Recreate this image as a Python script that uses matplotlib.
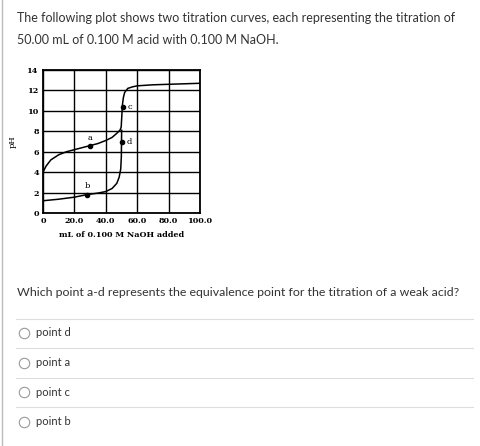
import matplotlib.pyplot as plt
from matplotlib.lines import Line2D

weak_ml = [0, 2, 5, 10, 15, 20, 25, 30, 35, 40, 44, 47, 49, 49.8, 50.2, 50.6, 51.2, 52, 54, 57, 60, 70, 80, 90, 100]
weak_ph = [4.0, 4.6, 5.2, 5.7, 6.0, 6.2, 6.4, 6.6, 6.8, 7.1, 7.4, 7.8, 8.1, 8.4, 9.5, 10.6, 11.3, 11.8, 12.2, 12.35, 12.45, 12.55, 12.6, 12.65, 12.7]
strong_ml = [0, 10, 20, 28, 35, 40, 44, 47, 48.5, 49.5, 49.9, 50.0, 50.1]
strong_ph = [1.2, 1.35, 1.55, 1.8, 1.95, 2.1, 2.4, 2.9, 3.5, 4.3, 5.5, 7.0, 8.1]
pt_labels = ['a', 'b', 'c', 'd']
pt_ml = [30, 28, 51, 50]
pt_ph = [6.6, 1.8, 10.4, 7.0]
options = ['point d', 'point a', 'point c', 'point b']

W, H = 480, 446
fig = plt.figure(figsize=(4.8, 4.46), dpi=100)

def fx(px):
    return px / W

def fy(py):
    return 1 - py / H

fig.text(fx(17), fy(18), 'The following plot shows two titration curves, each representing the titration of',
         fontsize=9.0, family='Lato', color='#333333', va='center')
fig.text(fx(17), fy(40), '50.00 mL of 0.100 M acid with 0.100 M NaOH.',
         fontsize=9.0, family='Lato', color='#333333', va='center')
fig.add_artist(Line2D([fx(1.5), fx(1.5)], [0, 1], color='#bbbbbb', lw=1))

ax = fig.add_axes([fx(43), fy(213), fx(200) - fx(43), fy(70) - fy(213)])
ax.plot(weak_ml, weak_ph, color='black', lw=1.1)
ax.plot(strong_ml, strong_ph, color='black', lw=1.1)
ax.scatter(pt_ml, pt_ph, color='black', s=9, zorder=3)
offsets = {'a': (0, 0.7), 'b': (0, 0.8), 'c': (3, 0), 'd': (3, 0)}
for lab, x, y in zip(pt_labels, pt_ml, pt_ph):
    dx, dy = offsets[lab]
    ax.text(x + dx, y + dy, lab, fontsize=6, family='DejaVu Serif', va='center', ha='left' if dx else 'center')
ax.set_xlim(0, 100)
ax.set_ylim(0, 14)
ax.set_xticks([0, 20, 40, 60, 80, 100])
ax.set_xticklabels(['0', '20.0', '40.0', '60.0', '80.0', '100.0'])
ax.set_yticks(range(0, 15, 2))
ax.grid(True, color='black', lw=1)
for s in ax.spines.values():
    s.set_linewidth(1.3)
ax.tick_params(length=0, labelsize=5.8, pad=3)
for t in ax.get_xticklabels() + ax.get_yticklabels():
    t.set_family('DejaVu Serif')
    t.set_fontweight('bold')
ax.set_xlabel('mL of 0.100 M NaOH added', fontsize=5.8, family='DejaVu Serif', fontweight='bold', labelpad=4)
ax.set_ylabel('pH', fontsize=6, family='DejaVu Serif', labelpad=8)

fig.text(fx(17), fy(293), 'Which point a-d represents the equivalence point for the titration of a weak acid?',
         fontsize=8.9, family='Lato', color='#333333', va='center')
for py in [319, 348, 378, 407]:
    fig.add_artist(Line2D([fx(16), fx(473)], [fy(py), fy(py)], color='#dddddd', lw=0.8))
for i, opt in enumerate(options):
    py = 333 + i * 29.5
    fig.add_artist(Line2D([fx(24)], [fy(py)], marker='o', markersize=7.5, markerfacecolor='white',
                          markeredgecolor='#999999', markeredgewidth=0.8))
    fig.text(fx(36), fy(py), opt, fontsize=8, family='Lato', color='#333333', va='center')

fig.savefig('out.png', dpi=100)
